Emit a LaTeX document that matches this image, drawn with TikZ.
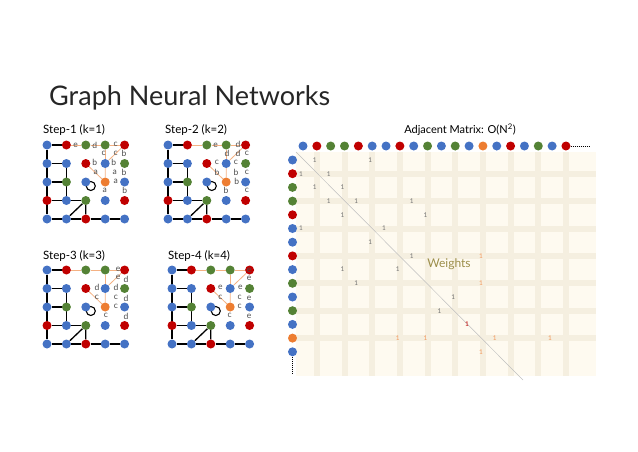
\documentclass[tikz,border=0pt]{standalone}
\usepackage{fontspec}
\setmainfont{Lato}
\usetikzlibrary{backgrounds,calc}
\definecolor{cb}{HTML}{4472C4}
\definecolor{cr}{HTML}{C00000}
\definecolor{cg}{HTML}{548235}
\definecolor{co}{HTML}{ED7D31}
\definecolor{edgeo}{HTML}{F4B183}
\definecolor{cream}{HTML}{FEFAF0}
\definecolor{stripe}{HTML}{F5EFE0}
\definecolor{olive}{HTML}{9C8E4A}
\tikzset{
 gn/.style={circle,inner sep=0pt,minimum size=9pt,fill=#1},
 bl/.style={black,line width=1.3pt},
 ol/.style={edgeo,line width=0.8pt},
 lab/.style={font=\fontsize{8.5}{8.5}\selectfont,text=black!70,inner sep=0pt},
 one/.style={font=\fontsize{6.5}{6.5}\selectfont,text=black!55,inner sep=0pt},
 oneo/.style={one,text=co!80},
 ttl/.style={font=\fontsize{11.5}{12}\selectfont,anchor=west,inner sep=0pt},
}
\newcommand\gstep[4]{%
\begin{scope}[shift={(#2,#3)}]
\foreach \r/\c/\col in {0/0/cb,0/1/cr,0/2/cg,0/3/cg,0/4/cr,
 1/0/cb,1/1/cb,1/2/cr,1/3/cb,1/4/cg,
 2/0/cb,2/1/cg,2/2/cb,2/3/co,2/4/cb,
 3/0/cr,3/1/cb,3/2/cg,3/3/cb,3/4/cr,
 4/0/cb,4/1/cb,4/2/cr,4/3/cb,4/4/cb}
 {\node[gn=\col] (#1\r\c) at (\c*19.4,\r*18.5) {};}
\begin{scope}[on background layer]
\draw[bl] (#100)--(#140);
\draw[bl] (#100)--(#101);
\draw[bl] (#110)--(#111);
\draw[bl] (#120)--(#121);
\draw[bl] (#111)--(#131);
\draw[bl] (#130)--(#131)--(#132);
\draw[bl] (#140)--(#141)--(#142)--(#143)--(#144);
\draw[bl] (#141)--(#132)--(#142);
\draw[ol] (#101)--(#102)--(#103)--(#104);
\draw[ol] (#103)--(#113);
\draw[ol] (#104)--(#113);
\draw[ol] (#112)--(#123)--(#113);
\draw[bl,line width=1.1pt] ($(#122)+(5,4)$) circle (4.5);
\end{scope}
\foreach \lx/\ly/\t in {#4} {\node[lab] at (\lx,\ly) {\t};}
\end{scope}}
\begin{document}
\begin{tikzpicture}[x=1pt,y=-1pt]
\useasboundingbox (0,0) rectangle (638,451);
\node[anchor=west,inner sep=0pt,font=\fontsize{27}{30}\selectfont,text=black!85] (title) at (49,98) {Graph Neural Networks};
\node[ttl] (t1) at (43,130) {Step-1 (k=1)};
\node[ttl] (t2) at (165,130) {Step-2 (k=2)};
\node[ttl] (t3) at (43,256) {Step-3 (k=3)};
\node[ttl] (t4) at (168,256) {Step-4 (k=4)};
\gstep{a}{47}{145}{28.7/0/e,47.7/0/d,68.7/-1/c,56.7/8.3/c,68.7/8.3/c,77/8.3/b,47.7/17.7/b,66.7/17.7/b,48.7/27/a,67.7/27/a,77/27.7/b,68.7/36.7/a,57.7/45.7/a,77.7/45.7/b}
\gstep{b}{168}{145}{47.7/0/e,70/-1/d,59/8.3/d,70/8.3/d,79/8.3/c,49/17.7/c,68/17.7/c,49/27/b,68/27/b,79/27.7/c,68.7/36.7/b,58/45.7/b,79/45.7/c}
\gstep{c}{47}{270}{71/-1/e,71/7/e,79/9/d,50/17.5/d,69/17.5/d,50/27/c,69/27/c,79/28.3/d,69/36.7/c,59/45.7/c,79/46.7/d}
\gstep{d}{172}{270}{77/0/e,77/8.3/e,48.3/17.5/e,68.3/17.5/e,48.3/27/c,67.7/27/c,77/28.3/e,67.7/36.7/c,57.7/45.7/c,77/46.7/e}
% matrix
\node[font=\fontsize{11}{12}\selectfont,inner sep=0pt] (mt) at (460,130) {Adjacent Matrix: O(N\textsuperscript{2})};
\fill[cream] (296,152) rectangle (596,376);
\foreach \k in {1,3,...,19} {\fill[stripe] (300+13.84*\k,152) rectangle (306+13.84*\k,376);}
\foreach \k in {1,3,...,13} {\fill[stripe] (296,157+13.7*\k) rectangle (596,163+13.7*\k);}
\coordinate (d1) at (296,152);
\coordinate (d2) at (523,380);
\draw[black!25,line width=0.5pt] (d1)--(d2);
\foreach \c [count=\i from 0] in {cb,cr,cg,cg,cr,cb,cb,cr,cb,cg,cb,cg,cb,co,cb,cr,cb,cg,cb,cr}
 {\node[gn=\c] (col\i) at (303+13.84*\i,146) {};}
\foreach \c [count=\i from 0] in {cb,cr,cg,cg,cr,cb,cb,cr,cb,cg,cb,cg,cb,co,cb}
 {\node[gn=\c] (row\i) at (292.5,160+13.7*\i) {};}
\coordinate (hd) at (590,146);
\coordinate (vd) at (292.5,373);
\draw[black,line width=1pt,dash pattern=on 1pt off 1pt] (col19.east)--(hd);
\draw[black,line width=1pt,dash pattern=on 1pt off 1pt] (row14.south)--(vd);
\foreach \c/\r in {1/0,5/0,0/1,2/1,1/2,3/2,2/3,4/3,8/3,3/4,9/4,0/5,6/5,5/6,8/7,3/8,7/8,4/9,11/10,10/11}
 {\node[one] at (301+13.84*\c,160+13.7*\r) {1};}
\foreach \c/\r in {13/7,13/9,7/13,9/13,14/13,18/13,13/14}
 {\node[oneo] at (301+13.84*\c,160+13.7*\r) {1};}
\node[one,text=cr] at (301+13.84*12,160+13.7*12) {1};
\node[font=\fontsize{12}{12}\selectfont,text=olive,inner sep=0pt] (w) at (449,264) {Weights};
\end{tikzpicture}
\end{document}
